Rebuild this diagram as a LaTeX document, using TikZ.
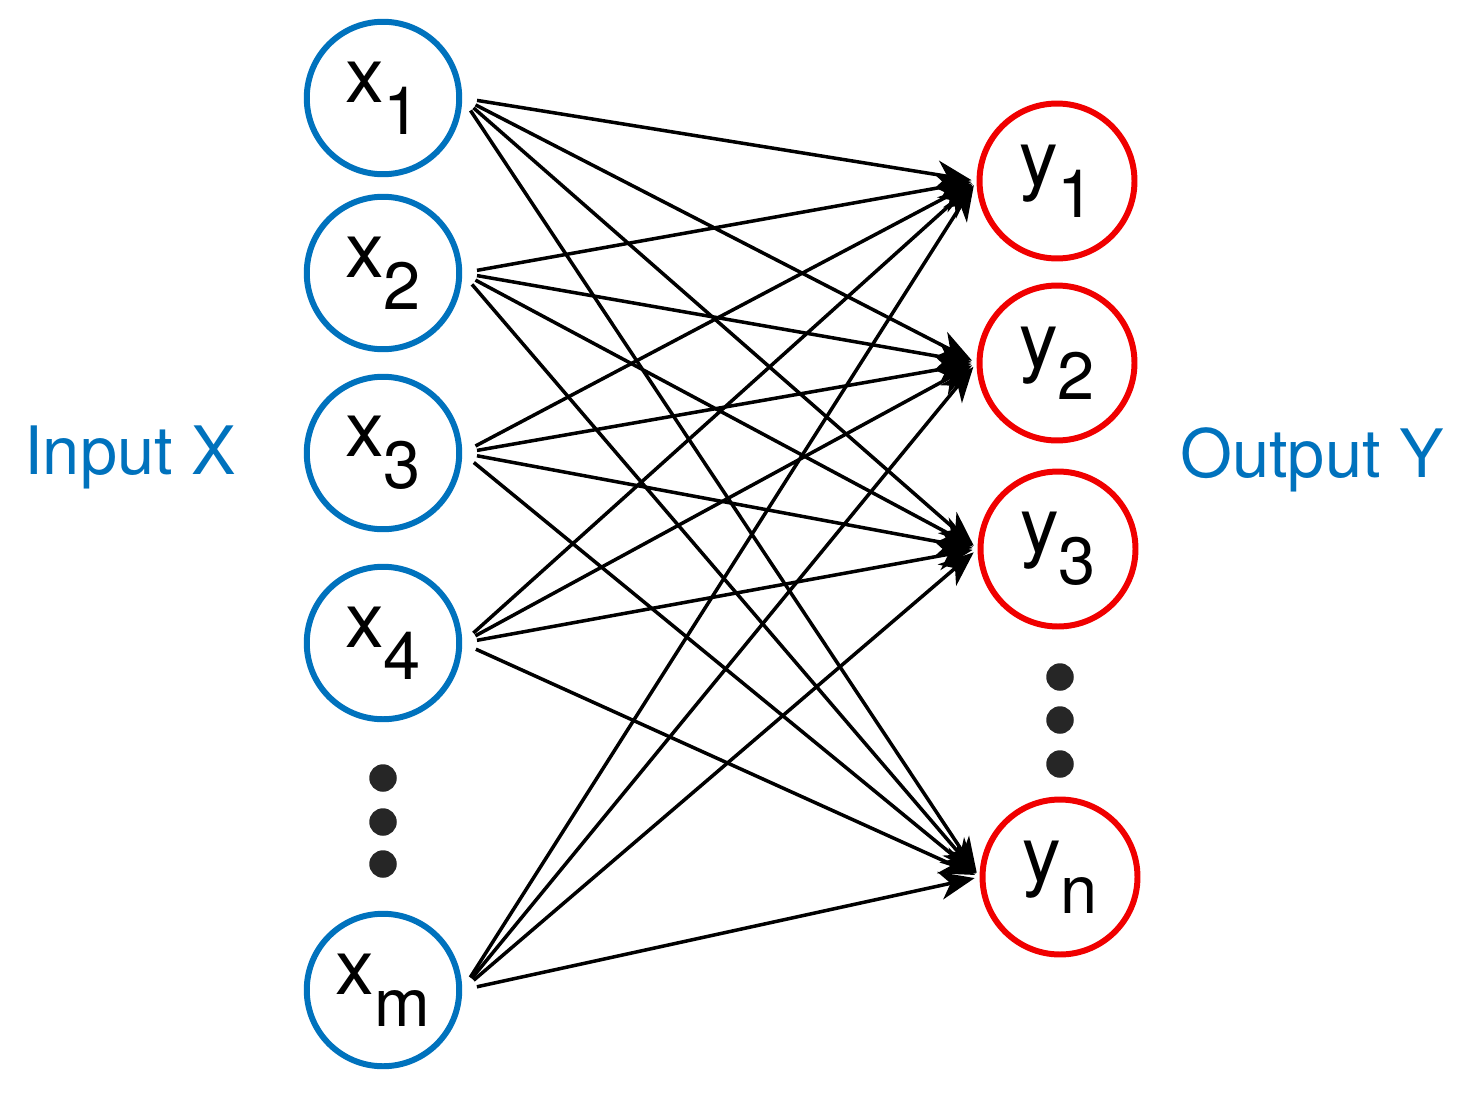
\documentclass[tikz,border=0pt]{standalone}
\usepackage{fontspec}
\setmainfont{TeX Gyre Heros}
\usetikzlibrary{arrows.meta}
\definecolor{myblue}{RGB}{0,114,189}
\definecolor{myred}{RGB}{240,0,0}
\newcommand{\lab}[2]{\fontsize{44}{46}\selectfont #1\raisebox{-0.42em}{\fontsize{38}{40}\selectfont #2}}
\begin{document}
\begin{tikzpicture}[x=0.02cm,y=-0.02cm,
  inn/.style={circle,draw=myblue,line width=3.4pt,minimum size=3.05cm,inner sep=0pt},
  outn/.style={circle,draw=myred,line width=3.4pt,minimum size=3.1cm,inner sep=0pt},
  edge/.style={line width=2pt,-{Stealth[length=20pt,width=16pt,inset=6pt]},shorten <=0.3cm,shorten >=0.1cm},
  dot/.style={circle,fill=black!85,inner sep=0pt,minimum size=0.55cm},
  side/.style={text=myblue,font=\fontsize{38}{40}\selectfont}]
\useasboundingbox (0,0) rectangle (1473,1092);
\node[inn] (x1) at (383,98) {\lab{x}{1}};
\node[inn] (x2) at (383,273) {\lab{x}{2}};
\node[inn] (x3) at (383,453) {\lab{x}{3}};
\node[inn] (x4) at (383,643) {\lab{x}{4}};
\node[inn] (xm) at (383,990) {\lab{x}{m}};
\node[outn] (y1) at (1057,181) {\lab{y}{1}};
\node[outn] (y2) at (1057,363) {\lab{y}{2}};
\node[outn] (y3) at (1058,549) {\lab{y}{3}};
\node[outn] (yn) at (1060,877) {\lab{y}{n}};
\node[dot] (a1) at (383,778) {};
\node[dot] (a2) at (383,822) {};
\node[dot] (a3) at (383,864) {};
\node[dot] (b1) at (1060,677) {};
\node[dot] (b2) at (1060,720) {};
\node[dot] (b3) at (1060,764) {};
\node[side] (in) at (130,457) {Input X};
\node[side] (out) at (1312,460) {Output Y};
\foreach \s in {x1,x2,x3,x4,xm}
  \foreach \t in {y1,y2,y3,yn}
    \draw[edge] (\s.east) -- (\t.west);
\end{tikzpicture}
\end{document}
